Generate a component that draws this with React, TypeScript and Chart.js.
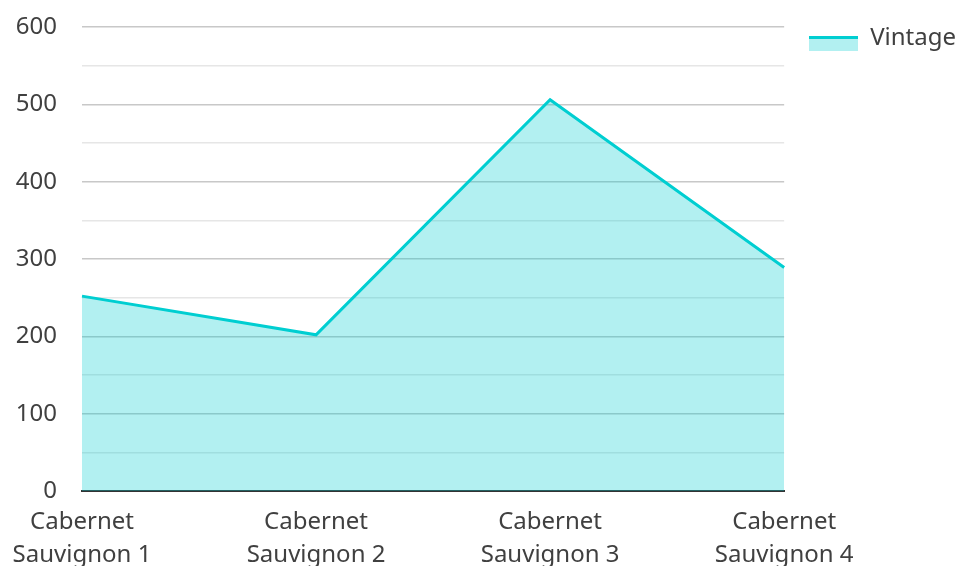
import React, { useEffect, useRef } from "react";
import { Chart, registerables } from "chart.js";

Chart.register(...registerables);

const categories: string[][] = [
  ["Cabernet", "Sauvignon 1"],
  ["Cabernet", "Sauvignon 2"],
  ["Cabernet", "Sauvignon 3"],
  ["Cabernet", "Sauvignon 4"],
];
const seriesName = "Vintage";
const vintage = [252, 202, 506, 289];
const yMin = 0;
const yMax = 600;
const yStep = 50;

const LINE = "#00CED1";
const FILL = "rgba(0,206,209,0.3)";
const TEXT = "#404040";
const FONT = "'Noto Sans', 'Open Sans', sans-serif";

const ICON_TOP = 11;

function makeLegendIcon(): HTMLCanvasElement {
  const c = document.createElement("canvas");
  c.width = 49;
  c.height = 15 + ICON_TOP;
  const ctx = c.getContext("2d")!;
  ctx.fillStyle = FILL;
  ctx.fillRect(0, ICON_TOP, 49, 15);
  ctx.fillStyle = LINE;
  ctx.fillRect(0, ICON_TOP, 49, 3);
  return c;
}

export default function App() {
  const ref = useRef<HTMLCanvasElement | null>(null);
  useEffect(() => {
    if (!ref.current) return;
    const icon = makeLegendIcon();
    const chart = new Chart(ref.current, {
      type: "line",
      data: {
        labels: categories,
        datasets: [
          {
            label: seriesName,
            data: vintage,
            borderColor: LINE,
            backgroundColor: FILL,
            borderWidth: 3,
            fill: "origin",
            pointRadius: 0,
            tension: 0,
            pointStyle: icon as any,
          },
        ],
      },
      options: {
        animation: false,
        responsive: true,
        maintainAspectRatio: false,
        layout: { padding: { top: 1, left: 0, right: -9, bottom: 0 } },
        plugins: {
          tooltip: { enabled: false },
          legend: {
            position: "right",
            align: "start",
            labels: {
              usePointStyle: true,
              pointStyleWidth: 49,
              color: TEXT,
              font: { family: FONT, size: 24 },
              padding: 25,
            },
          },
        },
        scales: {
          x: {
            offset: false,
            grid: { display: false, drawTicks: false },
            border: { display: true, color: "#333333", width: 2 },
            ticks: {
              color: TEXT,
              font: { family: FONT, size: 24, lineHeight: 1.375 },
              maxRotation: 0,
              autoSkip: false,
              padding: 15,
            },
            afterFit: (s: any) => {
              s.height = 75;
              s.paddingLeft = 0;
              s.paddingRight = 0;
            },
          },
          y: {
            min: yMin,
            max: yMax,
            grid: {
              drawTicks: false,
              color: (ctx: any) =>
                ctx.tick && ctx.tick.value % 100 === 0 ? "#c8c8c8" : "#e6e6e6",
              lineWidth: 1.5,
            },
            border: { display: false },
            ticks: {
              stepSize: yStep,
              color: TEXT,
              font: { family: FONT, size: 24 },
              padding: 25,
              callback: (v: any) => (Number(v) % 100 === 0 ? String(v) : ""),
            },
            afterFit: (s: any) => {
              s.width = 82;
              s.paddingTop = 27;
              s.paddingBottom = 0;
            },
          },
        },
      },
    });
    return () => chart.destroy();
  }, []);
  return (
    <div style={{ position: "fixed", left: 0, top: 0, width: 957, height: 566, background: "#fff" }}>
      <canvas ref={ref} />
    </div>
  );
}
